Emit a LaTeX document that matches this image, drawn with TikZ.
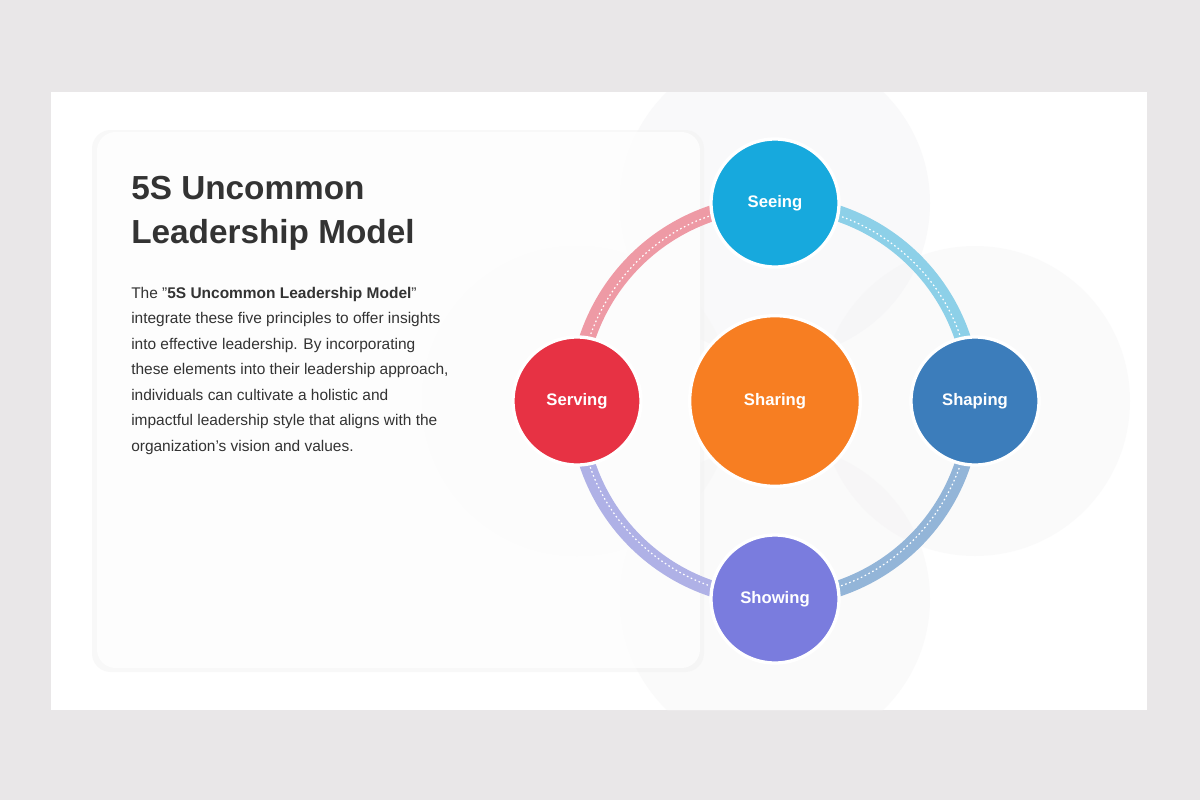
\documentclass[tikz,border=0pt]{standalone}
\usepackage{fontspec}
\setmainfont{Liberation Sans}
\usetikzlibrary{arrows.meta}
\definecolor{bg}{HTML}{E9E7E8}
\definecolor{txt}{HTML}{333333}
\definecolor{cSee}{HTML}{17A9DD}
\definecolor{cShape}{HTML}{3C7DBB}
\definecolor{cShow}{HTML}{7A7CDE}
\definecolor{cServe}{HTML}{E73244}
\definecolor{cShare}{HTML}{F77E22}
\definecolor{aPink}{HTML}{EE9AA5}
\definecolor{aBlue}{HTML}{8DD0E8}
\definecolor{aSteel}{HTML}{93B5D8}
\definecolor{aViolet}{HTML}{AFB1E6}
\tikzset{
  node5/.style={circle,draw=white,line width=2.5pt,minimum size=96pt,inner sep=0pt,text=white,font=\bfseries\fontsize{12.5}{14}\selectfont},
  ringarc/.style={line width=12pt},
  flowarr/.style={white,line width=0.9pt,dash pattern=on 1.2pt off 2pt,-{Stealth[length=5pt,width=5pt]}},
  halo/.style={opacity=0.35}
}
\begin{document}
\begin{tikzpicture}[x=0.75pt,y=-0.75pt]
\useasboundingbox (0,0) rectangle (1200,800);
\fill[bg] (0,0) rectangle (1200,800);
\fill[white] (51,92) rectangle (1147,710);
\begin{scope}
\clip (51,92) rectangle (1147,710);
\fill[halo,fill=blue!6!gray!12] (775,203) circle (155);
\fill[halo,fill=red!8!gray!8] (577,401) circle (155);
\fill[halo,fill=blue!4!gray!10] (975,401) circle (155);
\fill[halo,fill=violet!6!gray!10] (775,599) circle (155);
\end{scope}
% card
\fill[gray!10,opacity=0.5,rounded corners=14pt] (92,130) rectangle (704,672);
\fill[white,opacity=0.75,rounded corners=14pt] (97,132) rectangle (700,668);
\node[anchor=north west,inner sep=0pt,text=txt,align=left,font=\bfseries\fontsize{25}{33}\selectfont] (title) at (131,176) {5S Uncommon\\Leadership Model};
\node[anchor=north west,inner sep=0pt,text=txt,align=left,font=\fontsize{11.6}{19.1}\selectfont] (body) at (131,287)
{The "\textbf{5S Uncommon Leadership Model}"\\integrate these five principles to offer insights\\into effective leadership. By incorporating\\these elements into their leadership approach,\\individuals can cultivate a holistic and\\impactful leadership style that aligns with the\\organization's vision and values.};
% arcs
\coordinate (c) at (775,401);
\draw[ringarc,aPink] ([shift={(198:198)}]c) arc (198:252:198);
\draw[ringarc,aBlue] ([shift={(-72:198)}]c) arc (-72:-18:198);
\draw[ringarc,aSteel] ([shift={(18:198)}]c) arc (18:72:198);
\draw[ringarc,aViolet] ([shift={(108:198)}]c) arc (108:162:198);
\draw[flowarr] ([shift={(200:196)}]c) arc (200:254:196);
\draw[flowarr] ([shift={(-70:196)}]c) arc (-70:-16:196);
\draw[flowarr] ([shift={(20:196)}]c) arc (20:74:196);
\draw[flowarr] ([shift={(110:196)}]c) arc (110:164:196);
% nodes
\node[node5,fill=cSee] (see) at (775,203) {Seeing};
\node[node5,fill=cShape] (shape) at (975,401) {Shaping};
\node[node5,fill=cShow] (show) at (775,599) {Showing};
\node[node5,fill=cServe] (serve) at (577,401) {Serving};
\node[node5,fill=cShare,minimum size=128pt] (share) at (775,401) {Sharing};
\end{tikzpicture}
\end{document}
